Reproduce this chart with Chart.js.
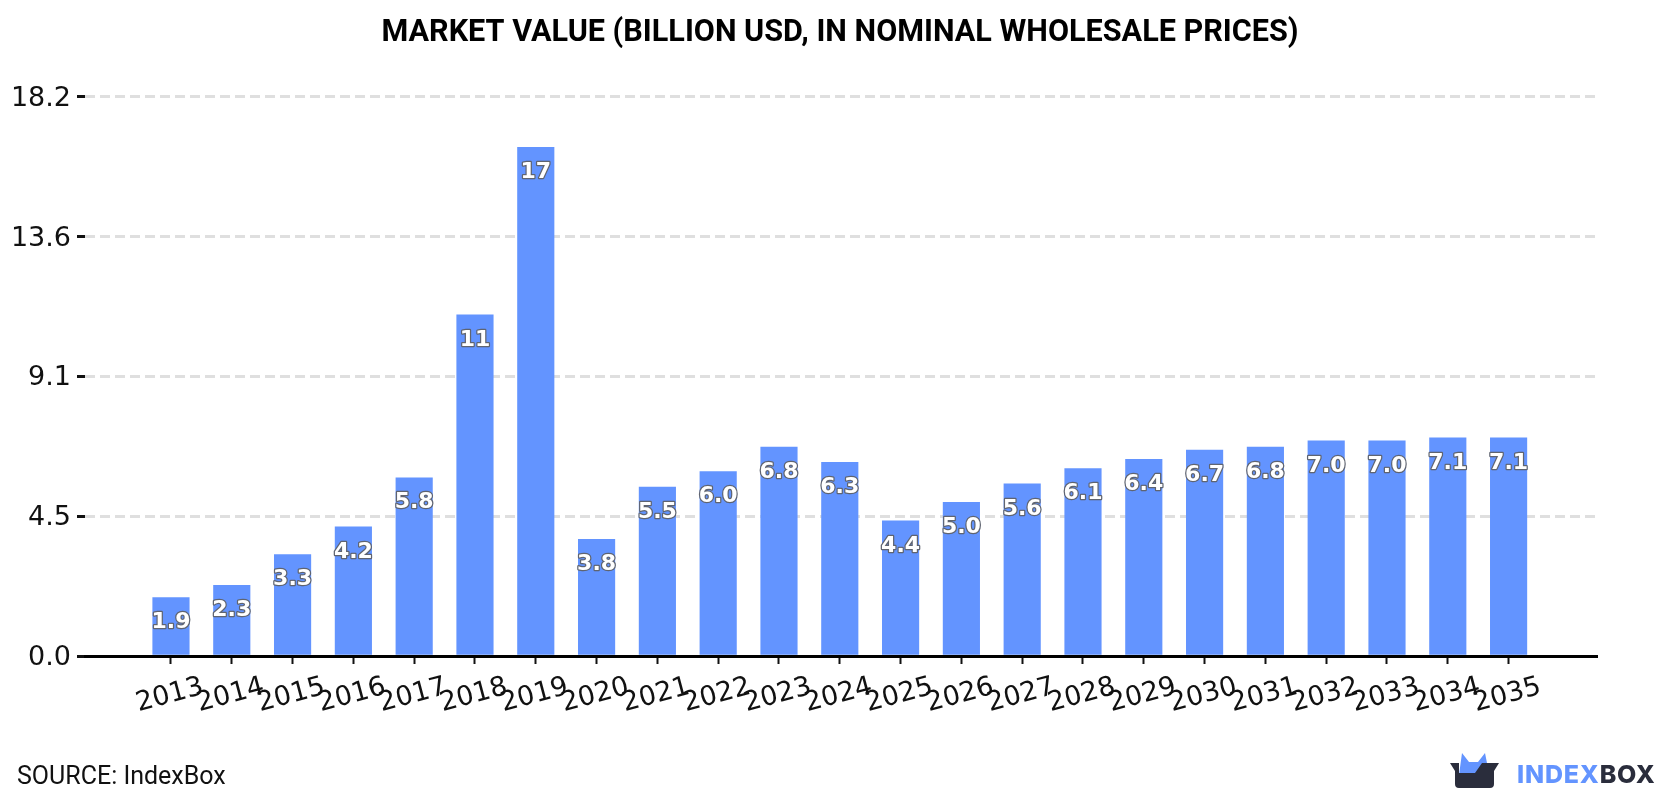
<!DOCTYPE html>
<html>
<head>
<meta charset="utf-8">
<title>Market value</title>
<script src="https://cdn.jsdelivr.net/npm/chart.js@4"></script>
<style>
    html, body { margin: 0; padding: 0; background: #fff; }
    #wrap { position: relative; width: 1680px; height: 800px; overflow: hidden; }
    #source { position: absolute; left: 17px; top: 761px; font: 25px Roboto, sans-serif; color: #111; }
    #logo { position: absolute; left: 1440px; top: 745px; }
</style>
</head>
<body>
<div id="wrap">
    <canvas id="marketChart" width="1680" height="800"></canvas>
    <div id="source">SOURCE: IndexBox</div>
    <svg id="logo" width="230" height="50" viewBox="0 0 230 50">
        <path d="M22 8 L29 17 L38 17 L45 8 L47 18 L38 30 H19 Z" fill="#6394ff"/>
        <path d="M10 18 H19 V28 H35 L42 18 H59 L54 26 V39 Q54 43 50 43 H19 Q15 43 15 39 V26 Z" fill="#2a2d3c"/>
        <text x="77" y="38" font-family="Inter, Roboto, sans-serif" font-weight="800" font-size="25" letter-spacing="0.8" fill="#6394ff">INDEX<tspan fill="#2a2d3c">BOX</tspan></text>
    </svg>
</div>
<script>
const years = [2013, 2014, 2015, 2016, 2017, 2018, 2019, 2020, 2021, 2022, 2023, 2024,
    2025, 2026, 2027, 2028, 2029, 2030, 2031, 2032, 2033, 2034, 2035]
const marketValues = [1.9, 2.3, 3.3, 4.2, 5.8, 11.1, 16.55, 3.8, 5.5, 6.0, 6.8, 6.3,
    4.4, 5.0, 5.6, 6.1, 6.4, 6.7, 6.8, 7.0, 7.0, 7.1, 7.1]
const yTickValues = [0, 4.55, 9.1, 13.65, 18.2]
const yTickLabels = ['0.0', '4.5', '9.1', '13.6', '18.2']

const chartTitle = 'MARKET VALUE (BILLION USD, IN NOMINAL WHOLESALE PRICES)'

// white figures with a thin grey outline, hung just under the top of each bar
const barValueLabels = {
    id: 'barValueLabels',
    afterDatasetsDraw(chart) {
        const ctx = chart.ctx
        const meta = chart.getDatasetMeta(0)
        ctx.save()
        ctx.font = 'bold 22px "DejaVu Sans"'
        ctx.textAlign = 'center'
        ctx.textBaseline = 'middle'
        ctx.lineJoin = 'round'
        meta.data.forEach((bar, i) => {
            const text = marketValues[i].toPrecision(2)
            ctx.lineWidth = 2.5
            ctx.strokeStyle = '#5f6470'
            ctx.strokeText(text, bar.x, bar.y + 25)
            ctx.fillStyle = '#fff'
            ctx.fillText(text, bar.x, bar.y + 25)
        })
        ctx.restore()
    }
}

new Chart(document.getElementById('marketChart'), {
    type: 'bar',
    data: {
        datasets: [{
            data: years.map((year, i) => ({x: year, y: marketValues[i]})),
            backgroundColor: '#6394ff',
            barThickness: 36.5,
        }]
    },
    plugins: [barValueLabels],
    options: {
        responsive: false,
        animation: false,
        plugins: {
            legend: {display: false},
            tooltip: {enabled: false},
            title: {
                display: true,
                text: chartTitle,
                color: '#000',
                font: {family: 'Roboto', size: 30.6, weight: 'bold', lineHeight: 1.2},
                padding: {top: 15, bottom: 45},
            },
        },
        scales: {
            x: {
                type: 'linear',
                bounds: 'data',
                offset: false,
                min: 2011.586,
                max: 2036.454,
                afterBuildTicks: scale => {
                    scale.ticks = years.map(year => ({value: year}))
                },
                afterFit: scale => {
                    scale.height = 144
                    // room to the right of the plot, keeps the title centred on the page
                    scale.paddingRight = 83
                },
                border: {display: true, color: '#000', width: 3},
                grid: {offset: false, drawOnChartArea: false, drawTicks: true, tickLength: 8, tickColor: '#111', tickWidth: 2},
                ticks: {
                    autoSkip: false,
                    minRotation: 15,
                    maxRotation: 15,
                    labelOffset: 32,
                    padding: 7,
                    color: '#111',
                    font: {family: 'DejaVu Sans', size: 27},
                    callback: value => String(value),
                },
            },
            y: {
                min: 0,
                max: 18.2,
                afterBuildTicks: scale => {
                    scale.ticks = yTickValues.map(value => ({value: value}))
                },
                afterFit: scale => { scale.width = 85 },
                border: {display: false, dash: [10, 5]},
                grid: {color: '#dfdfdf', lineWidth: 3, tickColor: '#111', tickLength: 8, tickWidth: 3, tickBorderDash: []},
                ticks: {
                    padding: 6,
                    labelOffset: 2,
                    color: '#111',
                    font: {family: 'DejaVu Sans', size: 27},
                    callback: (value, index) => yTickLabels[index],
                },
            },
        },
    },
})
</script>
</body>
</html>
